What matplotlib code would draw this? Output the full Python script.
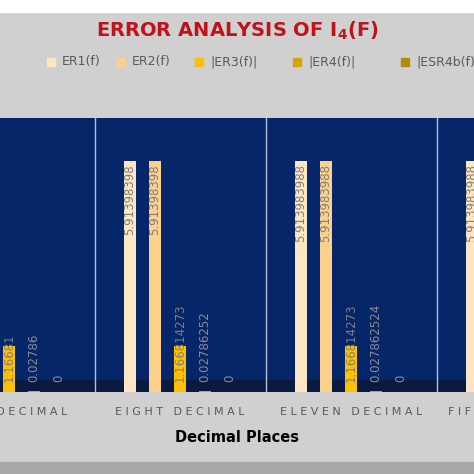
import matplotlib
matplotlib.use("Agg")
import matplotlib.pyplot as plt
import numpy as np
from matplotlib.patches import Rectangle

categories = ["FIVE DECIMAL", "EIGHT DECIMAL", "ELEVEN DECIMAL", "FIFTEEN DECIMAL"]
series = ["ER1(f)", "ER2(f)", "|ER3(f)|", "|ER4(f)|", "|ESR4b(f)|"]
er1 = [5.91398, 5.91398398, 5.913983988, 5.913983988]
er2 = [5.91398, 5.91398398, 5.913983988, 5.913983988]
er3 = [1.16681, 1.166814273, 1.166814273, 1.166814273]
er4 = [0.02786, 0.02786252, 0.027862524, 0.027862524]
esr = [0, 0, 0, 0]
labels = [
    ["5.91398", "5.91398", "1.16681", "0.02786", "0"],
    ["5.91398398", "5.91398398", "1.166814273", "0.02786252", "0"],
    ["5.913983988", "5.913983988", "1.166814273", "0.027862524", "0"],
    ["5.913983988", "5.913983988", "1.166814273", "0.027862524", "0"],
]
colors = ["#FDE6C4", "#FDD08C", "#FFC000", "#D9A400", "#B38B0A"]
data = [er1, er2, er3, er4, esr]

fig = plt.figure(figsize=(4.74, 4.74), dpi=100)
fig.patch.set_facecolor("#D0D0D0")
fig.patches.append(Rectangle((0, 1 - 12/474), 1, 12/474, transform=fig.transFigure, color="white", zorder=0))
fig.patches.append(Rectangle((0, 0), 1, 12/474, transform=fig.transFigure, color="#A8A8A8", zorder=0))

ax = fig.add_axes([0, 1 - 392/474, 1, (392 - 118)/474])
ax.set_facecolor("#06266A")
x = np.arange(len(categories))
offs = np.array([-2, -1, 0, 1, 2]) * 0.146
w = 0.07
for i, (vals, c) in enumerate(zip(data, colors)):
    ax.bar(x + offs[i], vals, w, color=c, zorder=3, edgecolor="none")
    for j, v in enumerate(vals):
        t = labels[j][i]
        if v > 3:
            ax.text(x[j] + offs[i], v - 0.1, t, rotation=90, ha="center", va="top",
                    fontsize=8.5, color="#7F7F7F", zorder=4)
        else:
            ax.text(x[j] + offs[i], 0.25, t, rotation=90, ha="center", va="bottom",
                    fontsize=8.5, color="#8C8C8C" if v < 1 else "#7F7F7F", zorder=4)
for b in [0.5, 1.5, 2.5]:
    ax.axvline(b, color="#B8C0D8", lw=1, zorder=2)
ax.axhspan(0, 0.3, color="#0A1A40", zorder=1)
ax.set_xlim(-0.0526, 2.719)
ax.set_ylim(0, 7.0)
ax.set_xticks([]); ax.set_yticks([])
for s in ax.spines.values():
    s.set_visible(False)

for j, c in enumerate(categories):
    px = 9 + 171 * j
    spaced = "   ".join(" ".join(wd) for wd in c.split(" "))
    fig.text(px / 474, 1 - 412/474, spaced, ha="center", va="center",
             fontsize=8, color="#595959")
fig.text(0.5, 1 - 438/474, "Decimal Places", ha="center", va="center",
         fontsize=10.5, fontweight="bold", color="black")
fig.text(0.5, 1 - 31/474, "ERROR ANALYSIS OF I$_\\mathbf{4}$(F)", ha="center", va="center",
         fontsize=14, fontweight="bold", color="#C0121B")
lx = [50, 120, 198, 296, 404]
for px, s, c in zip(lx, series, colors):
    fig.patches.append(Rectangle(((px - 3) / 474, 1 - 66/474), 8/474, 8/474,
                                 transform=fig.transFigure, color=c))
    fig.text((px + 12) / 474, 1 - 62/474, s, ha="left", va="center", fontsize=9, color="#595959")

fig.savefig("out.png", dpi=100, facecolor=fig.get_facecolor())
